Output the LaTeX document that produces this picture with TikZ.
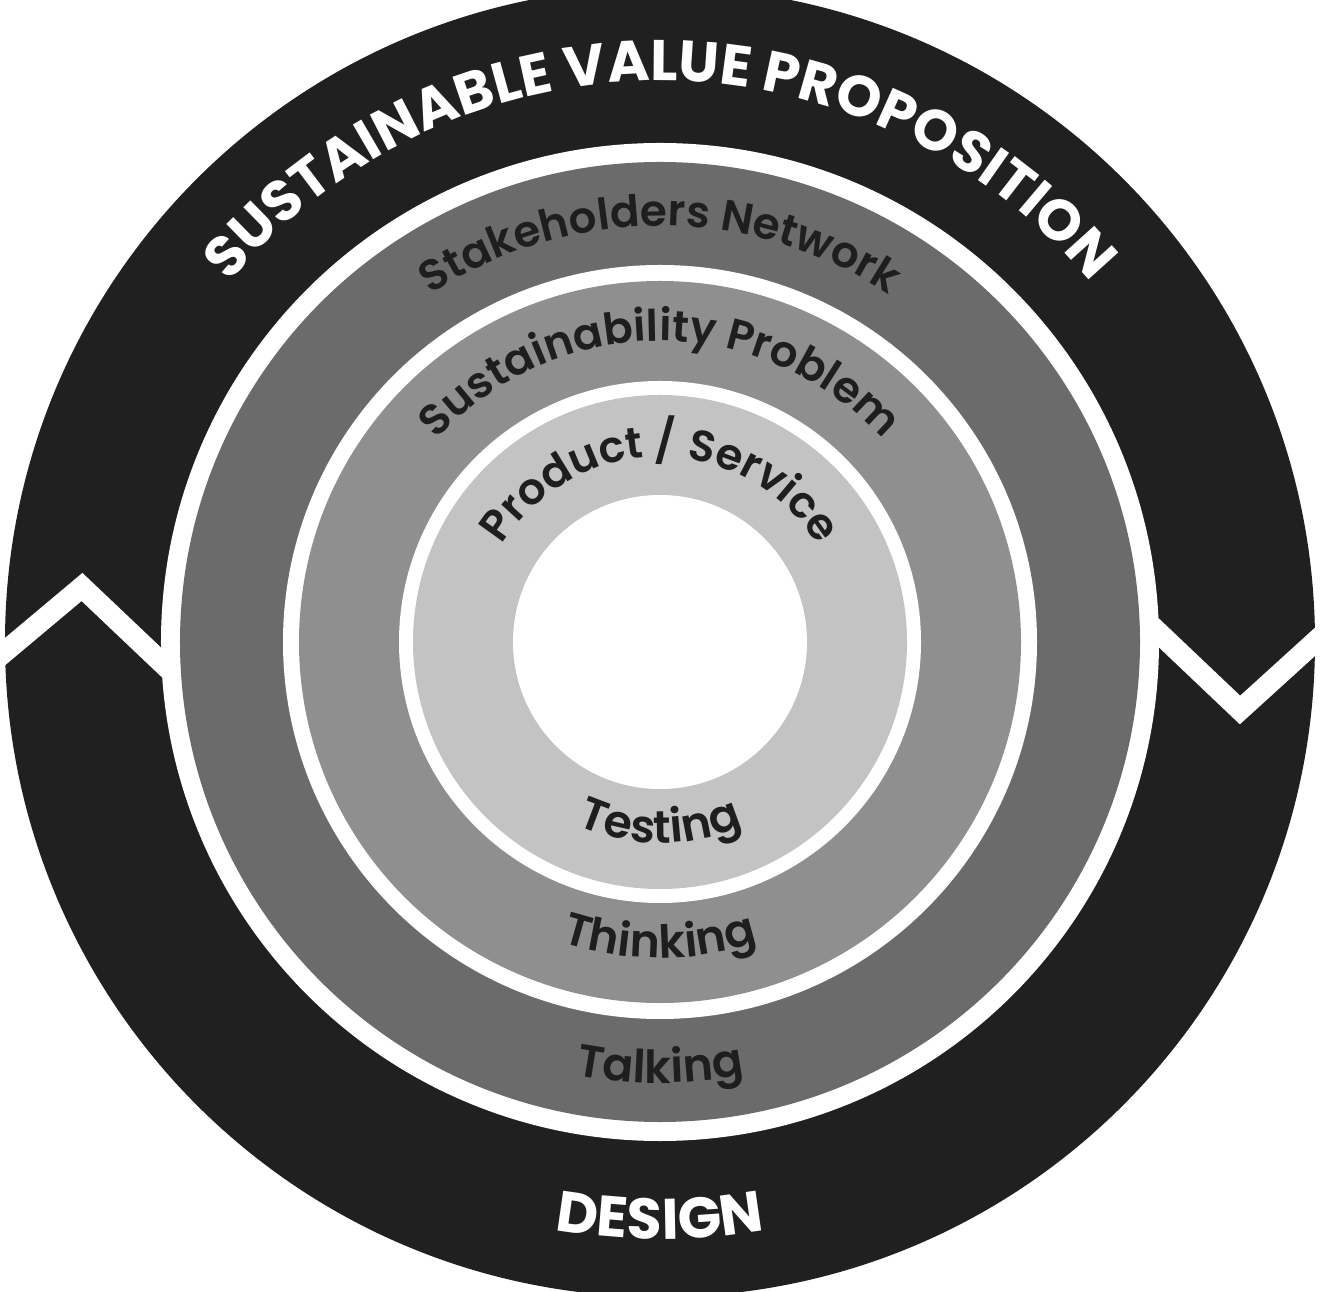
\documentclass[tikz,border=0pt]{standalone}
\usepackage{fontspec}
\usepackage{tikz}
\usetikzlibrary{decorations.text}
\newfontfamily\boldsans{Poppins Bold}
\newfontfamily\labelsans{Poppins SemiBold}
\definecolor{ringblack}{HTML}{202020}
\definecolor{ringdark}{HTML}{6B6B6B}
\definecolor{ringmid}{HTML}{8F8F8F}
\definecolor{ringlight}{HTML}{C3C3C3}
\definecolor{labeltext}{HTML}{1E1E1E}

\begin{document}
\begin{tikzpicture} [
      ring/.style = { fill = #1 },
      gapline/.style = { draw = white, line width = 0.21cm, line join = miter },
      arclabel/.style = { decorate, decoration = { text along path, text align = center, text color = labeltext,
        text = {|\labelsans\fontsize{12.4pt}{14pt}\selectfont|#1} } },
      lowlabel/.style = { decorate, decoration = { text along path, text align = center, text color = labeltext,
        text = {|\labelsans\fontsize{13pt}{15pt}\selectfont|#1} } },
      biglabel/.style = { decorate, decoration = { text along path, text align = center, text color = white,
        text = {|\boldsans\fontsize{16.3pt}{19pt}\selectfont|#1} } }
      ]

      \useasboundingbox (-6.60,-6.49) rectangle (6.60,6.42);
      \fill [ring=ringblack] (0,0) circle (6.55);
      \draw [gapline] (-6.90,-0.39) -- (-5.78,0.55) -- (-4.80,-0.38);
      \draw [gapline] (4.80,0.27) -- (5.80,-0.68) -- (6.90,0.32);
      \foreach \r/\col in {4.99/white, 4.80/ringdark, 3.77/white, 3.61/ringmid, 2.61/white, 2.47/ringlight, 1.47/white}
        \fill [ring=\col] (0,0) circle (\r);

      % top labels
      \path [biglabel={SUSTAINABLE VALUE PROPOSITION}] (170:5.61) arc [start angle=170, end angle=10, radius=5.61];
      \path [arclabel={Stakeholders Network}] (170:4.16) arc [start angle=170, end angle=10, radius=4.16];
      \path [arclabel={Sustainability Problem}] (170:3.01) arc [start angle=170, end angle=10, radius=3.01];
      \path [arclabel={Product / Service}] (170:1.85) arc [start angle=170, end angle=10, radius=1.85];

      % bottom labels
      \path [lowlabel={Testing}] (190:2.01) arc [start angle=190, end angle=350, radius=2.01];
      \path [lowlabel={Thinking}] (190:3.16) arc [start angle=190, end angle=350, radius=3.16];
      \path [lowlabel={Talking}] (190:4.41) arc [start angle=190, end angle=350, radius=4.41];
      \path [biglabel={DESIGN}] (190:5.97) arc [start angle=190, end angle=350, radius=5.97];
\end{tikzpicture}
\end{document}
